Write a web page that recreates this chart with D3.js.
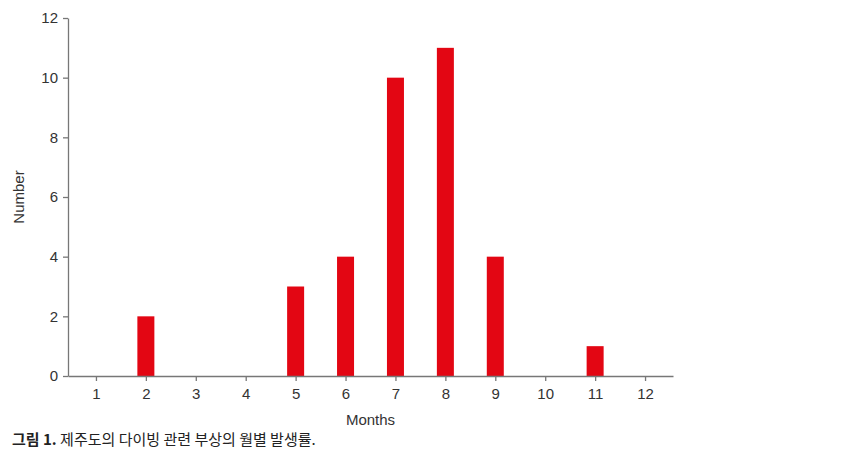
<!DOCTYPE html>
<html>
<head>
<meta charset="utf-8">
<script src="https://cdn.jsdelivr.net/npm/d3@7"></script>
<style>
  body { margin: 0; background: #fff; }
  svg { display: block; }
  .axis text { font-family: "Liberation Sans", Arial, sans-serif; font-size: 15px; fill: #333; }
  .axis path, .axis line { stroke: #777; stroke-width: 1.3; }
</style>
</head>
<body>
<svg id="chart" width="857" height="464"></svg>
<script>
const months = [1, 2, 3, 4, 5, 6, 7, 8, 9, 10, 11, 12];
const counts = [0, 2, 0, 0, 3, 4, 10, 11, 4, 0, 1, 0];
const yTicks = [0, 2, 4, 6, 8, 10, 12];

const svg = d3.select('#chart');
const margin = { left: 68, right: 184, top: 18, bottom: 88 };
const W = 857, H = 464;

const x = d3.scaleLinear().domain([0.44, 12.56]).range([margin.left, W - margin.right]);
const y = d3.scaleLinear().domain([0, 12]).range([H - margin.bottom, margin.top]);
const barW = 17;

// bars
svg.append('g')
  .selectAll('rect')
  .data(months.map((m, i) => ({ m, v: counts[i] })).filter(d => d.v > 0))
  .enter().append('rect')
  .attr('x', d => x(d.m) - barW / 2)
  .attr('y', d => y(d.v))
  .attr('width', barW)
  .attr('height', d => y(0) - y(d.v))
  .attr('fill', '#e30613');

// axes
svg.append('g')
  .attr('class', 'axis')
  .attr('transform', `translate(0,${y(0)})`)
  .call(d3.axisBottom(x).tickValues(months).tickFormat(d3.format('d')).tickSize(5).tickSizeOuter(0).tickPadding(7));

svg.append('g')
  .attr('class', 'axis')
  .attr('transform', `translate(${margin.left},0)`)
  .call(d3.axisLeft(y).tickValues(yTicks).tickSize(5).tickSizeOuter(0).tickPadding(5));

// axis titles
svg.append('text')
  .attr('x', x(6.5))
  .attr('y', 425)
  .attr('text-anchor', 'middle')
  .style('font-family', '"Liberation Sans", Arial, sans-serif')
  .style('font-size', '15px')
  .style('fill', '#333')
  .text('Months');

svg.append('text')
  .attr('transform', `translate(24,${y(6)}) rotate(-90)`)
  .attr('text-anchor', 'middle')
  .style('font-family', '"Liberation Sans", Arial, sans-serif')
  .style('font-size', '15px')
  .style('fill', '#333')
  .text('Number');

// caption
const cap = svg.append('text')
  .attr('x', 12)
  .attr('y', 445)
  .style('font-family', '"Noto Sans CJK KR", "Noto Sans", sans-serif')
  .style('font-size', '15px')
  .style('fill', '#222');
cap.append('tspan').style('font-weight', 'bold').text('그림 1.');
cap.append('tspan').text(' 제주도의 다이빙 관련 부상의 월별 발생률.');
</script>
</body>
</html>
